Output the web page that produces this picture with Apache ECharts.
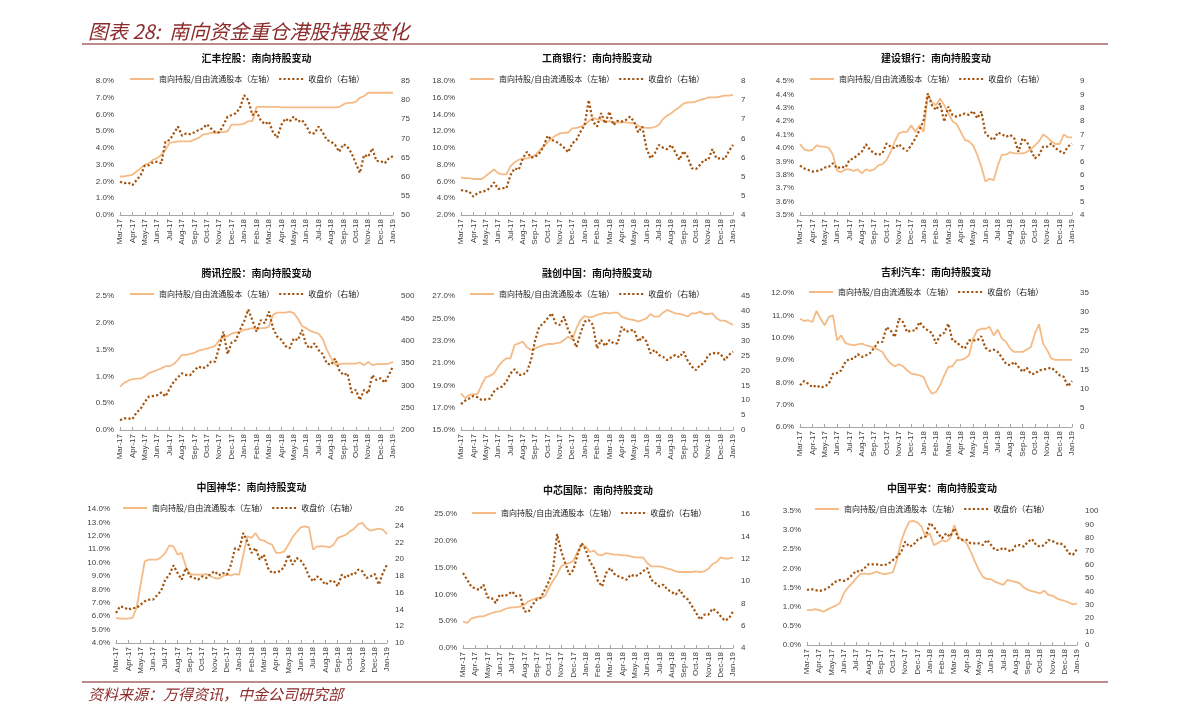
<!DOCTYPE html>
<html>
<head>
<meta charset="utf-8">
<script src="https://cdn.jsdelivr.net/npm/echarts@6/dist/echarts.min.js"></script>
<style>
html, body { margin: 0; padding: 0; background: #fff; }
#main { width: 1191px; height: 723px; }
</style>
</head>
<body>
<div id="main"></div>
<script>
// tick labels, three points per month (last month one point)
var months = ['Mar-17', 'Apr-17', 'May-17', 'Jun-17', 'Jul-17', 'Aug-17', 'Sep-17', 'Oct-17', 'Nov-17', 'Dec-17',
  'Jan-18', 'Feb-18', 'Mar-18', 'Apr-18', 'May-18', 'Jun-18', 'Jul-18', 'Aug-18', 'Sep-18', 'Oct-18', 'Nov-18', 'Dec-18', 'Jan-19'];

var holdName = '南向持股/自由流通股本（左轴）';
var priceName = '收盘价（右轴）';

// 汇丰控股
var hsbcHold = [2.3, 2.3, 2.35, 2.4, 2.6, 2.8, 3.0, 3.1, 3.3, 3.4, 3.6, 3.9, 4.3, 4.35, 4.4, 4.4, 4.4, 4.4, 4.5, 4.6, 4.8, 4.85, 4.9, 4.9,
  4.95, 4.95, 5.0, 5.4, 5.4, 5.4, 5.45, 5.6, 5.6, 6.45, 6.45, 6.45, 6.45, 6.45, 6.45, 6.43, 6.43, 6.43, 6.43, 6.43, 6.43,
  6.42, 6.42, 6.42, 6.42, 6.42, 6.42, 6.42, 6.42, 6.45, 6.6, 6.7, 6.7, 6.75, 7.0, 7.1, 7.3, 7.3, 7.3, 7.3, 7.3, 7.3, 7.3];
var hsbcPrice = [58.7, 58.3, 58.5, 57.8, 59.1, 60.4, 62.9, 63.0, 63.8, 63.9, 63.5, 69.2, 69.6, 71.3, 73.1, 70.7, 71.3, 71.1,
  71.6, 72.2, 72.6, 73.7, 72.6, 71.6, 71.6, 73.5, 75.7, 76.1, 76.6, 77.9, 81.3, 80.0, 76.1, 77.0, 74.8, 73.7, 74.4, 71.6, 70.2,
  73.5, 75.2, 74.4, 75.7, 74.4, 74.8, 73.3, 71.3, 71.3, 73.1, 71.6, 69.6, 69.2, 68.3, 66.5, 68.5, 67.8, 66.1, 63.5, 61.0, 65.7,
  65.2, 67.4, 64.1, 64.1, 63.5, 64.8, 65.4];

// 工商银行
var icbcHold = [6.46, 6.4, 6.4, 6.3, 6.3, 6.3, 6.65, 7.05, 7.45, 7.0, 6.85, 6.85, 7.8, 8.3, 8.6, 8.7, 8.75, 8.95, 9.15, 9.65, 10.15,
  10.7, 11.15, 11.5, 11.75, 11.8, 11.85, 12.35, 12.4, 12.55, 12.75, 13.2, 13.6, 13.45, 13.35, 13.15, 13.2, 13.05, 13.05,
  13.05, 13.05, 13.0, 12.95, 12.65, 12.45, 12.4, 12.4, 12.5, 12.75, 13.45, 13.85, 14.15, 14.55, 14.9, 15.3, 15.45, 15.45,
  15.55, 15.75, 15.85, 16.05, 16.05, 16.05, 16.15, 16.25, 16.25, 16.35];
var icbcPrice = [4.65, 4.63, 4.61, 4.48, 4.57, 4.61, 4.63, 4.7, 4.85, 4.68, 4.7, 4.7, 5.04, 5.22, 5.18, 5.48, 5.65, 5.5, 5.52, 5.61, 5.78,
  6.07, 5.96, 5.92, 5.85, 5.76, 5.64, 5.87, 5.96, 6.18, 6.35, 7.0, 6.44, 6.31, 6.66, 6.39, 6.7, 6.35, 6.46, 6.44, 6.48, 6.57,
  6.44, 6.16, 6.31, 5.74, 5.48, 5.61, 5.83, 5.76, 5.72, 5.83, 5.64, 5.44, 5.67, 5.52, 5.22, 5.2, 5.31, 5.44, 5.44, 5.72, 5.48,
  5.48, 5.46, 5.67, 5.83];

// 建设银行
var ccbHold = [4.03, 3.99, 3.98, 3.985, 4.02, 4.01, 4.01, 4.0, 3.95, 3.83, 3.82, 3.84, 3.84, 3.83, 3.84, 3.81, 3.84, 3.83, 3.84, 3.87, 3.88,
  3.91, 3.97, 4.05, 4.11, 4.12, 4.12, 4.17, 4.12, 4.17, 4.12, 4.40, 4.34, 4.32, 4.37, 4.32, 4.26, 4.2, 4.18, 4.12, 4.06, 4.05,
  4.02, 3.95, 3.86, 3.75, 3.77, 3.76, 3.87, 3.95, 3.95, 3.97, 3.96, 3.96, 3.96, 3.97, 3.99, 4.02, 4.05, 4.1, 4.08, 4.05, 4.03,
  4.03, 4.1, 4.08, 4.08];
var ccbPrice = [5.84, 5.74, 5.68, 5.62, 5.64, 5.68, 5.77, 5.8, 5.93, 5.74, 5.8, 5.77, 6.05, 6.11, 6.24, 6.36, 6.64, 6.43, 6.3, 6.24, 6.3,
  6.67, 6.55, 6.49, 6.64, 6.49, 6.39, 6.61, 6.86, 7.17, 7.54, 8.54, 8.1, 7.92, 8.17, 7.48, 8.04, 7.73, 7.67, 7.73, 7.79, 7.73,
  7.88, 7.61, 7.86, 7.05, 6.89, 6.8, 7.08, 7.01, 6.92, 6.99, 6.86, 6.36, 6.86, 6.74, 6.43, 6.11, 6.24, 6.55, 6.55, 6.67, 6.49,
  6.39, 6.3, 6.55, 6.66];

// 腾讯控股
var tencentHold = [0.81, 0.88, 0.92, 0.95, 0.96, 0.96, 1.0, 1.06, 1.09, 1.12, 1.15, 1.19, 1.19, 1.23, 1.31, 1.40, 1.40, 1.42, 1.44, 1.48, 1.5,
  1.52, 1.54, 1.57, 1.68, 1.73, 1.75, 1.8, 1.82, 1.83, 1.87, 1.88, 1.9, 1.88, 1.9, 1.9, 1.93, 2.15, 2.19, 2.19, 2.19, 2.21,
  2.18, 2.08, 1.94, 1.9, 1.85, 1.82, 1.8, 1.7, 1.5, 1.35, 1.22, 1.23, 1.24, 1.24, 1.24, 1.24, 1.26, 1.21, 1.27, 1.21, 1.23,
  1.23, 1.23, 1.24, 1.27];
var tencentPrice = [222, 226, 226, 224, 239, 248, 263, 275, 276, 278, 284, 275, 293, 308, 318, 327, 323, 323, 334, 342, 338,
  342, 353, 353, 387, 420, 370, 396, 401, 424, 443, 470, 446, 420, 446, 439, 465, 428, 409, 402, 388, 383, 405, 401, 424,
  390, 383, 394, 379, 370, 349, 346, 360, 334, 323, 327, 284, 290, 267, 290, 282, 323, 312, 316, 306, 323, 343];

// 融创中国
var sunacHold = [18.28, 17.84, 18.13, 18.22, 18.22, 19.03, 19.72, 19.84, 20.07, 20.67, 21.12, 21.42, 21.42, 22.61, 22.76, 22.91, 22.4, 22.16,
  22.31, 22.46, 22.61, 22.7, 22.7, 22.76, 22.82, 23.06, 23.36, 23.12, 24.1, 24.85, 25.21, 25.09, 25.15, 25.3, 25.39, 25.51,
  25.45, 25.51, 25.51, 25.15, 25.0, 24.91, 24.85, 24.7, 24.85, 25.0, 25.39, 25.15, 25.15, 25.51, 25.75, 25.6, 25.45, 25.39,
  25.3, 25.15, 25.45, 25.45, 25.6, 25.39, 25.39, 25.45, 25.0, 24.79, 24.79, 24.61, 24.4];
var sunacPrice = [8.7, 9.85, 10.6, 11.4, 11.0, 10.1, 10.3, 10.5, 12.9, 14.0, 14.6, 16.2, 19.0, 20.4, 18.5, 18.5, 19.6, 23.5,
  30.2, 34.7, 35.8, 37.5, 39.2, 35.8, 35.3, 38.1, 33.6, 31.3, 27.8, 32.5, 36.4, 36.9, 35.3, 27.4, 30.2, 28.2, 30.2, 29.1, 29.1,
  34.7, 33.0, 33.4, 33.6, 29.7, 31.3, 29.7, 25.7, 26.9, 25.2, 24.6, 23.5, 24.4, 25.2, 24.4, 26.3, 23.3, 21.3, 20.1, 21.8, 22.4,
  25.2, 25.7, 26.0, 25.5, 23.5, 25.2, 26.3];

// 吉利汽车
var geelyHold = [10.85, 10.75, 10.78, 10.7, 11.2, 10.85, 10.55, 10.93, 11.0, 9.88, 10.1, 9.76, 9.7, 9.66, 9.7, 9.73, 9.66, 9.61, 9.55, 9.46, 9.36,
  9.06, 8.84, 8.72, 8.81, 8.72, 8.54, 8.39, 8.36, 8.31, 8.24, 7.79, 7.49, 7.57, 7.87, 8.31, 8.69, 8.72, 8.99, 9.01, 9.06, 9.21,
  9.96, 10.33, 10.4, 10.4, 10.48, 10.1, 10.36, 9.96, 9.81, 9.51, 9.36, 9.36, 9.36, 9.46, 9.58, 10.18, 10.6, 9.73, 9.43, 9.06,
  9.01, 9.01, 9.01, 9.01, 9.01];
var geelyPrice = [10.9, 12.0, 11.3, 10.4, 10.9, 10.3, 10.6, 11.3, 13.9, 14.1, 14.8, 17.0, 17.8, 17.8, 19.0, 18.3, 18.7, 19.3, 20.7, 22.2, 22.2,
  26.1, 25.2, 23.5, 28.3, 27.4, 24.8, 25.2, 25.2, 27.4, 26.1, 25.2, 24.6, 21.8, 23.9, 24.6, 27.0, 22.6, 22.2, 21.1, 20.5, 22.6,
  22.6, 22.6, 23.7, 20.7, 19.9, 20.2, 19.6, 18.1, 16.5, 16.1, 17.0, 15.7, 14.4, 15.5, 13.9, 13.9, 14.8, 15.0, 15.2, 15.5, 14.6,
  13.5, 13.1, 10.6, 12.0];

// 中国神华
var shenhuaHold = [5.87, 5.82, 5.82, 5.82, 5.87, 6.61, 8.35, 10.1, 10.22, 10.22, 10.22, 10.4, 10.72, 11.29, 11.21, 10.59, 10.72, 9.72,
  9.15, 9.1, 9.1, 9.1, 9.15, 8.98, 8.85, 8.8, 8.98, 9.1, 9.05, 9.15, 9.1, 10.59, 11.96, 11.84, 12.2, 11.71, 11.64, 11.46, 11.34,
  10.72, 10.72, 10.84, 11.34, 11.89, 12.28, 12.63, 12.7, 12.63, 10.97, 11.21, 11.21, 11.21, 11.14, 11.34, 11.84, 11.96, 12.08,
  12.33, 12.53, 12.88, 12.96, 12.58, 12.38, 12.46, 12.53, 12.46, 12.13];
var shenhuaPrice = [13.58, 14.38, 14.26, 13.98, 14.18, 14.18, 14.58, 14.98, 15.17, 15.17, 15.69, 16.25, 17.56, 18.16, 19.27, 18.36, 17.56, 18.96,
  17.96, 17.76, 17.56, 17.96, 17.76, 18.24, 18.56, 18.08, 18.36, 18.16, 19.35, 21.34, 21.14, 23.13, 22.1, 20.75, 21.34, 19.95,
  20.55, 18.96, 18.36, 18.48, 18.56, 19.15, 20.55, 19.35, 20.15, 19.83, 19.15, 17.96, 17.36, 17.96, 17.56, 16.97, 17.36, 17.44,
  16.77, 18.16, 17.76, 18.24, 18.16, 18.76, 18.56, 17.76, 17.96, 18.24, 16.97, 18.36, 19.35];

// 中芯国际
var smicHold = [4.98, 4.66, 5.47, 5.72, 5.91, 5.91, 6.22, 6.53, 6.72, 6.84, 7.15, 7.46, 7.59, 7.59, 7.77, 8.08, 8.71, 9.02, 9.33, 9.45, 9.64,
  11.19, 12.56, 13.68, 15.24, 15.67, 15.86, 16.29, 17.91, 19.28, 18.97, 17.91, 18.16, 17.41, 17.29, 17.72, 17.54, 17.41, 17.41,
  17.29, 17.29, 17.1, 16.92, 16.92, 16.92, 15.86, 15.24, 15.24, 15.24, 15.05, 14.8, 14.61, 14.3, 14.18, 14.18, 14.18, 14.18,
  14.3, 14.18, 14.3, 14.8, 15.67, 16.04, 16.92, 16.67, 16.67, 16.92];
var smicPrice = [10.72, 10.12, 9.52, 9.31, 9.22, 9.67, 8.54, 8.48, 8.03, 8.78, 8.63, 8.78, 9.07, 8.63, 8.72, 7.28, 7.22, 7.88, 8.33, 8.48, 9.22,
  9.97, 11.01, 14.2, 12.66, 11.61, 10.57, 11.01, 12.36, 13.4, 12.81, 11.76, 11.16, 9.97, 9.52, 10.72, 11.16, 10.63, 10.42,
  10.27, 10.12, 10.57, 10.42, 10.57, 10.87, 11.16, 10.12, 9.82, 9.52, 9.67, 9.22, 9.01, 8.78, 9.22, 8.63, 8.33, 7.73,
  7.13, 6.54, 6.99, 6.99, 7.52, 7.28, 6.84, 6.45, 6.63, 7.28];

// 中国平安
var pinganHold = [0.91, 0.91, 0.94, 0.91, 0.87, 0.93, 0.98, 1.03, 1.09, 1.35, 1.5, 1.61, 1.74, 1.85, 1.87, 1.85, 1.87, 1.92, 1.87, 1.85, 1.87,
  1.9, 2.22, 2.7, 3.0, 3.22, 3.24, 3.2, 3.09, 2.83, 2.92, 2.61, 2.66, 2.74, 2.7, 2.79, 3.13, 2.83, 2.74, 2.66, 2.44, 2.19,
  1.96, 1.78, 1.72, 1.72, 1.65, 1.61, 1.57, 1.7, 1.67, 1.65, 1.61, 1.5, 1.44, 1.41, 1.38, 1.35, 1.42, 1.31, 1.29, 1.22, 1.18,
  1.15, 1.11, 1.06, 1.09];
var pinganPrice = [41.0, 41.8, 41.0, 40.3, 41.0, 42.3, 44.8, 47.3, 48.5, 47.8, 49.3, 52.2, 55.2, 54.7, 57.2, 60.2, 60.2, 60.2, 59.7, 59.7, 60.9,
  63.4, 65.9, 69.2, 77.1, 73.4, 74.6, 78.4, 80.1, 80.8, 91.0, 88.3, 83.3, 79.6, 83.3, 80.8, 87.1, 79.6, 78.4, 78.4, 75.9, 75.9,
  75.9, 74.6, 78.4, 74.6, 70.9, 70.9, 72.6, 70.9, 69.7, 74.1, 74.6, 73.4, 77.1, 79.1, 74.6, 73.4, 74.6, 78.4, 77.6, 75.9, 75.9,
  73.4, 68.4, 67.2, 71.6];

var cats = [];
months.forEach(function (m, i) {
  var n = i < months.length - 1 ? 3 : 1;
  for (var j = 0; j < n; j++) cats.push(m + '#' + j);
});

var charts = [
  { title: '汇丰控股：南向持股变动', hold: hsbcHold, price: hsbcPrice, l: [0, 8, 1], r: [50, 85, 5], box: [120, 81, 273, 134], titleY: 58, lg: [130, 79] },
  { title: '工商银行：南向持股变动', hold: icbcHold, price: icbcPrice, l: [2, 18, 2], r: [4, 7.5, 0.5], round: true, box: [461, 81, 272, 134], titleY: 58, lg: [470, 79] },
  { title: '建设银行：南向持股变动', hold: ccbHold, price: ccbPrice, l: [3.5, 4.5, 0.1], r: [4, 9, 0.5], round: true, box: [800, 81, 272, 134], titleY: 58, lg: [810, 79] },
  { title: '腾讯控股：南向持股变动', hold: tencentHold, price: tencentPrice, l: [0, 2.5, 0.5], r: [200, 500, 50], box: [120, 296, 273, 134], titleY: 273, lg: [130, 294] },
  { title: '融创中国：南向持股变动', hold: sunacHold, price: sunacPrice, l: [15, 27, 2], r: [0, 45, 5], box: [461, 296, 272, 134], titleY: 273, lg: [470, 294] },
  { title: '吉利汽车：南向持股变动', hold: geelyHold, price: geelyPrice, l: [6, 12, 1], r: [0, 35, 5], box: [800, 293, 272, 134], titleY: 272, lg: [809, 292] },
  { title: '中国神华：南向持股变动', hold: shenhuaHold, price: shenhuaPrice, l: [4, 14, 1], r: [10, 26, 2], box: [116, 509, 271, 134], titleY: 487, lg: [123, 508] },
  { title: '中芯国际：南向持股变动', hold: smicHold, price: smicPrice, l: [0, 25, 5], r: [4, 16, 2], box: [463, 514, 270, 134], titleY: 490, lg: [472, 513] },
  { title: '中国平安：南向持股变动', hold: pinganHold, price: pinganPrice, l: [0, 3.5, 0.5], r: [0, 100, 10], box: [807, 511, 270, 134], titleY: 488, lg: [815, 509] }
];

var labelFont = 'Liberation Sans, Arial, sans-serif';
var cjkFont = '"Noto Sans CJK SC", sans-serif';
var holdColor = '#F5BB86';
var priceColor = '#A4530E';
// legend icons: a solid bar and a row of square dots
var solidIcon = 'path://M0,0h24v2h-24z';
var dotIcon = 'path://M0,0h2v2h-2zM4,0h2v2h-2zM8,0h2v2h-2zM12,0h2v2h-2zM16,0h2v2h-2zM20,0h2v2h-2z';

var grid = [], xAxis = [], yAxis = [], series = [], legend = [];
var graphic = [
  { type: 'text', x: 88, y: 31, style: { text: '图表 28:  南向资金重仓港股持股变化', font: 'italic 20px ' + cjkFont, fill: '#8C2B2B', verticalAlign: 'middle' } },
  { type: 'line', shape: { x1: 82, y1: 44, x2: 1108, y2: 44 }, style: { stroke: '#A86565', lineWidth: 1.5 } },
  { type: 'line', shape: { x1: 82, y1: 682, x2: 1108, y2: 682 }, style: { stroke: '#A86565', lineWidth: 1.5 } },
  { type: 'text', x: 88, y: 694, style: { text: '资料来源：万得资讯，中金公司研究部', font: 'italic 15px ' + cjkFont, fill: '#8C2B2B', verticalAlign: 'middle' } }
];

charts.forEach(function (c, i) {
  var b = c.box;
  grid.push({ left: b[0], top: b[1], width: b[2], height: b[3], outerBoundsMode: 'none' });
  graphic.push({
    type: 'text', x: b[0] + b[2] / 2, y: c.titleY,
    style: { text: c.title, font: 'bold 10px ' + cjkFont, fill: '#111', align: 'center', verticalAlign: 'middle' }
  });
  xAxis.push({
    type: 'category', gridIndex: i, data: cats, boundaryGap: false,
    axisLine: { lineStyle: { color: '#A6A6A6', width: 1 } },
    axisTick: { inside: true, length: 3, interval: 2, lineStyle: { color: '#A6A6A6' } },
    axisLabel: {
      interval: 2, rotate: 90, fontSize: 8, color: '#404040', fontFamily: labelFont, margin: 4,
      formatter: function (v) { return v.split('#')[0]; }
    },
    splitLine: { show: false }
  });
  yAxis.push({
    type: 'value', gridIndex: i, position: 'left', min: c.l[0], max: c.l[1], interval: c.l[2],
    axisLine: { show: false }, axisTick: { show: false }, splitLine: { show: false },
    axisLabel: { fontSize: 8, color: '#404040', fontFamily: labelFont, margin: 6,
      formatter: function (v) { return v.toFixed(1) + '%'; } }
  });
  yAxis.push({
    type: 'value', gridIndex: i, position: 'right', min: c.r[0], max: c.r[1], interval: c.r[2],
    axisLine: { show: false }, axisTick: { show: false }, splitLine: { show: false },
    axisLabel: { fontSize: 8, color: '#404040', fontFamily: labelFont, margin: 8,
      formatter: c.round ? function (v) { return String(Math.floor(v + 0.5 + 1e-9)); } : function (v) { return String(Math.round(v * 100) / 100); } }
  });
  series.push({
    name: holdName, type: 'line', xAxisIndex: i, yAxisIndex: 2 * i, data: c.hold,
    symbol: 'none', lineStyle: { color: holdColor, width: 1.8 }, itemStyle: { color: holdColor }
  });
  series.push({
    name: priceName, type: 'line', xAxisIndex: i, yAxisIndex: 2 * i + 1, data: c.price,
    symbol: 'none', lineStyle: { color: priceColor, width: 2.2, type: [2.2, 2.2] }, itemStyle: { color: priceColor }
  });
  legend.push({
    left: c.lg[0], top: c.lg[1] - 5, padding: 0, itemWidth: 24, itemHeight: 2.2, itemGap: 5,
    selectedMode: false,
    textStyle: { fontSize: 8, color: '#222', fontFamily: cjkFont, lineHeight: 10 },
    data: [{ name: holdName, icon: solidIcon }, { name: priceName, icon: dotIcon }]
  });
});

var myChart = echarts.init(document.getElementById('main'));
myChart.setOption({
  backgroundColor: '#fff',
  animation: false,
  grid: grid,
  xAxis: xAxis,
  yAxis: yAxis,
  legend: legend,
  graphic: graphic,
  series: series
});
</script>
</body>
</html>
